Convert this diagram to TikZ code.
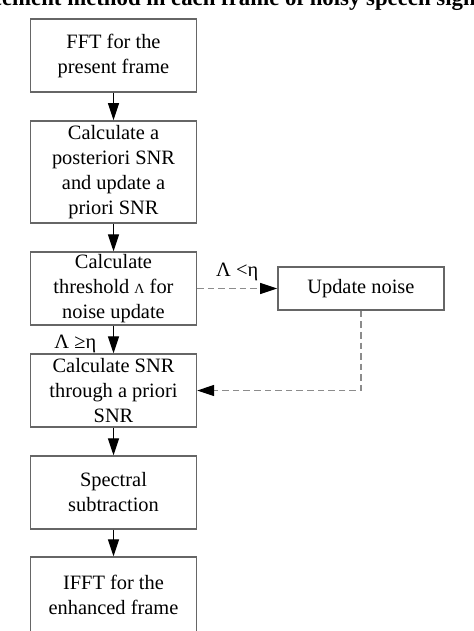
\documentclass[tikz,border=0pt]{standalone}
\usepackage{fontspec}
\setmainfont{Liberation Serif}
\usepackage{tikz}
\usetikzlibrary{arrows.meta}

\begin{document}
\begin{tikzpicture}[font=\fontsize{10.2pt}{12.5pt}\selectfont]
      \tikzset{
        box/.style={draw=black!60, line width=0.7pt, rectangle, align=center, inner sep=1pt, minimum width=83pt, minimum height=36.5pt, node distance=51pt},
        upd/.style={draw=black!60, line width=0.7pt, rectangle, minimum width=83pt, minimum height=21.5pt, node distance=123.7pt},
        line/.style={draw, line width=0.6pt, -{Triangle[length=8.5pt,width=5.5pt]}},
        dline/.style={draw=black!45, line width=0.6pt, dash pattern=on 3.3pt off 2pt, -{Triangle[length=8.5pt,width=5.5pt,color=black]}},
      }
      \useasboundingbox (0,0) rectangle (237pt,-315.5pt);
      \clip (0,0) rectangle (237pt,-315.5pt);
      \node [anchor=base west, inner sep=0pt, font=\fontsize{11.4pt}{13pt}\selectfont\bfseries] (title) at (-34pt,-2.6pt) {enhancement method in each frame of noisy speech signal};

      \node [box] (fft) at (56.75pt,-27.75pt) {FFT for the\\present frame};
      \node [box, node distance=58.2pt, minimum height=51pt, below of=fft] (post) {Calculate a\\posteriori SNR\\and update a\\priori SNR};
      \node [box, node distance=58.3pt, below of=post] (thr) {Calculate\\threshold {\scriptsize Λ} for\\noise update};
      \node [upd, right of=thr] (noise) {Update noise};
      \node [box, below of=thr] (snrc) {Calculate SNR\\through a priori\\SNR};
      \node [box, below of=snrc] (spec) {Spectral\\subtraction};
      \node [box, minimum height=37.5pt, below of=spec] (ifft) {IFFT for the\\enhanced frame};

      \path [line] (fft)--(post);
      \path [line] (post)--(thr);
      \path [line] (thr)--node[left, xshift=-5pt, yshift=-2pt]{Λ ≥η} (snrc);
      \path [line] (snrc)--(spec);
      \path [line] (spec)--(ifft);
      %noise branch
      \path [dline] (thr)--node[above]{Λ <η} (noise);
      \path [dline] (noise) |- (snrc);
\end{tikzpicture}
\end{document}
